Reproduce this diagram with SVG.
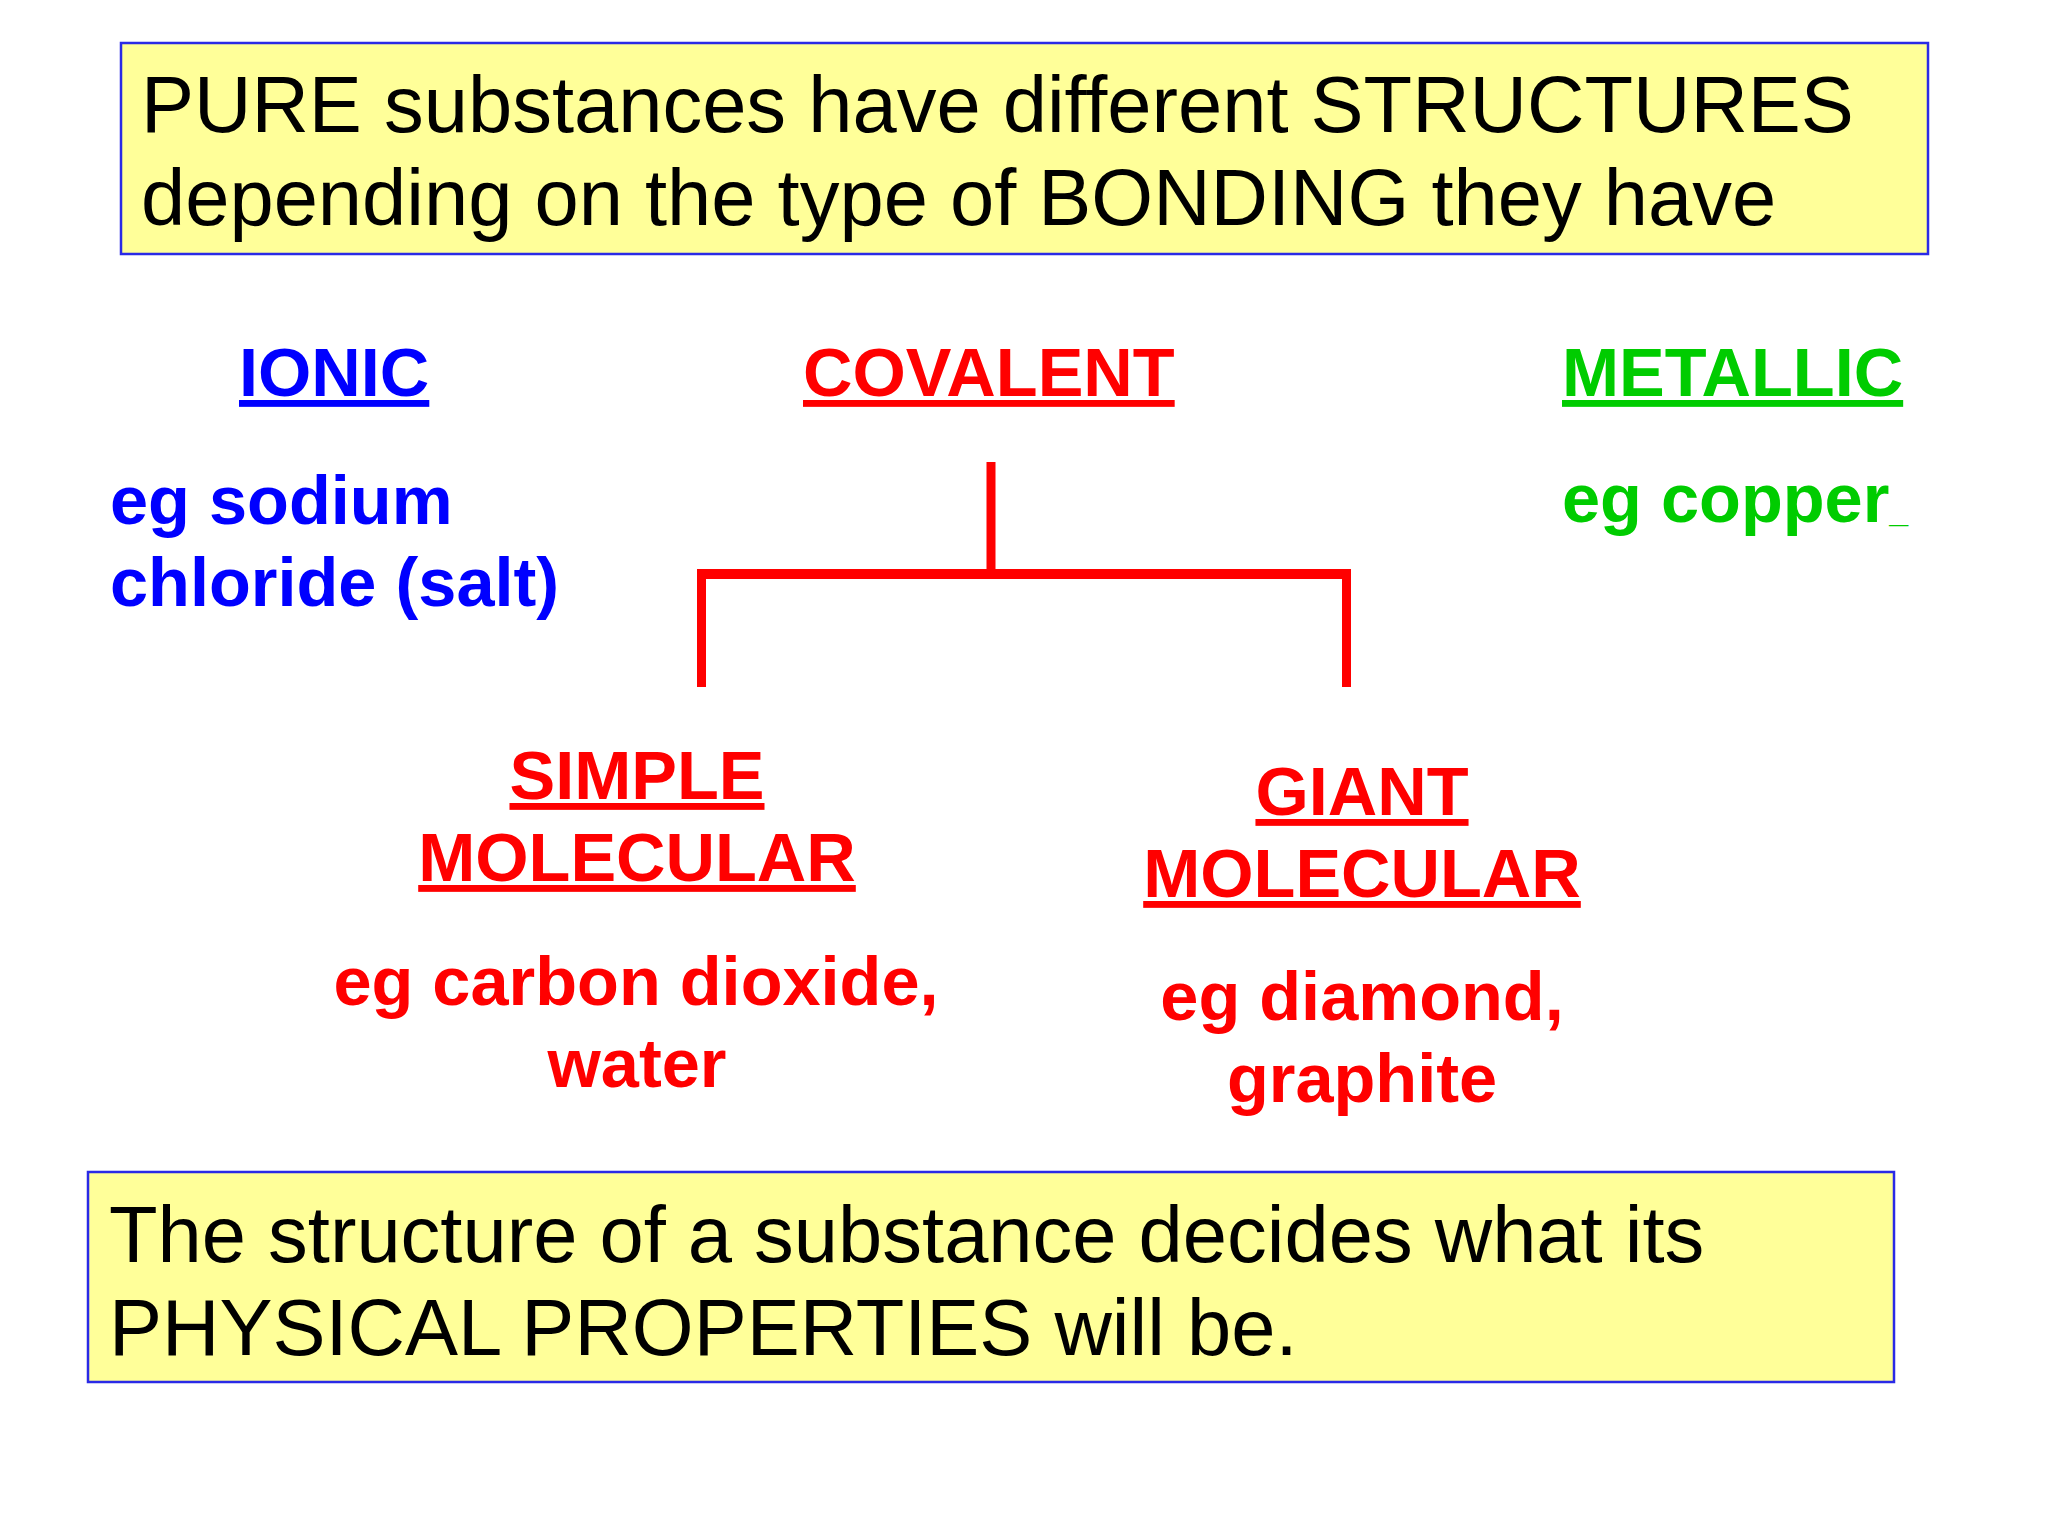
<svg xmlns="http://www.w3.org/2000/svg" width="2048" height="1536" viewBox="0 0 2048 1536">
  <style>
    .box { fill: #ffff99; stroke: #2a2ae6; stroke-width: 2.5; }
    .plain { font-family: "Liberation Sans", Arial, sans-serif; font-size: 79.5px; fill: #000000; }
    .lbl { font-family: "Liberation Sans", Arial, sans-serif; font-size: 68.5px; font-weight: bold; }
    .u { text-decoration: underline; }
    .blue { fill: #0000ff; }
    .red { fill: #ff0000; }
    .green { fill: #00cc00; }
    .mid { text-anchor: middle; }
    .conn { stroke: #ff0000; fill: none; stroke-linecap: butt; }
  </style>
  <rect width="2048" height="1536" fill="#ffffff"/>

  <g id="intro">
    <rect class="box" x="121" y="43" width="1807" height="211"/>
    <text class="plain" x="141" y="132">PURE substances have different STRUCTURES</text>
    <text class="plain" x="141" y="225">depending on the type of BONDING they have</text>
  </g>

  <g id="ionic">
    <text class="lbl blue u" x="239" y="396">IONIC</text>
    <text class="lbl blue" x="110" y="524">eg sodium</text>
    <text class="lbl blue" x="110" y="606">chloride (salt)</text>
  </g>

  <g id="covalent">
    <text class="lbl red u" x="803" y="396">COVALENT</text>
  </g>

  <g id="metallic">
    <text class="lbl green u" x="1562" y="396">METALLIC</text>
    <text class="lbl green" x="1562" y="522">eg copper<tspan font-size="34">_</tspan></text>
  </g>

  <g id="connectors">
    <line class="conn" x1="991" y1="462" x2="991" y2="574" stroke-width="9"/>
    <line class="conn" x1="697" y1="574" x2="1351" y2="574" stroke-width="10"/>
    <line class="conn" x1="701.5" y1="574" x2="701.5" y2="687" stroke-width="9"/>
    <line class="conn" x1="1346.5" y1="574" x2="1346.5" y2="687" stroke-width="9"/>
  </g>

  <g id="simple-molecular">
    <text class="lbl red u mid" x="637" y="799">SIMPLE</text>
    <text class="lbl red u mid" x="637" y="881">MOLECULAR</text>
    <text class="lbl red mid" x="636" y="1005">eg carbon dioxide,</text>
    <text class="lbl red mid" x="637" y="1087">water</text>
  </g>

  <g id="giant-molecular">
    <text class="lbl red u mid" x="1362" y="815">GIANT</text>
    <text class="lbl red u mid" x="1362" y="897">MOLECULAR</text>
    <text class="lbl red mid" x="1362" y="1020">eg diamond,</text>
    <text class="lbl red mid" x="1362" y="1102">graphite</text>
  </g>

  <g id="conclusion">
    <rect class="box" x="88" y="1172" width="1806" height="210"/>
    <text class="plain" x="109" y="1262">The structure of a substance decides what its</text>
    <text class="plain" x="109" y="1355">PHYSICAL PROPERTIES will be.</text>
  </g>
</svg>
